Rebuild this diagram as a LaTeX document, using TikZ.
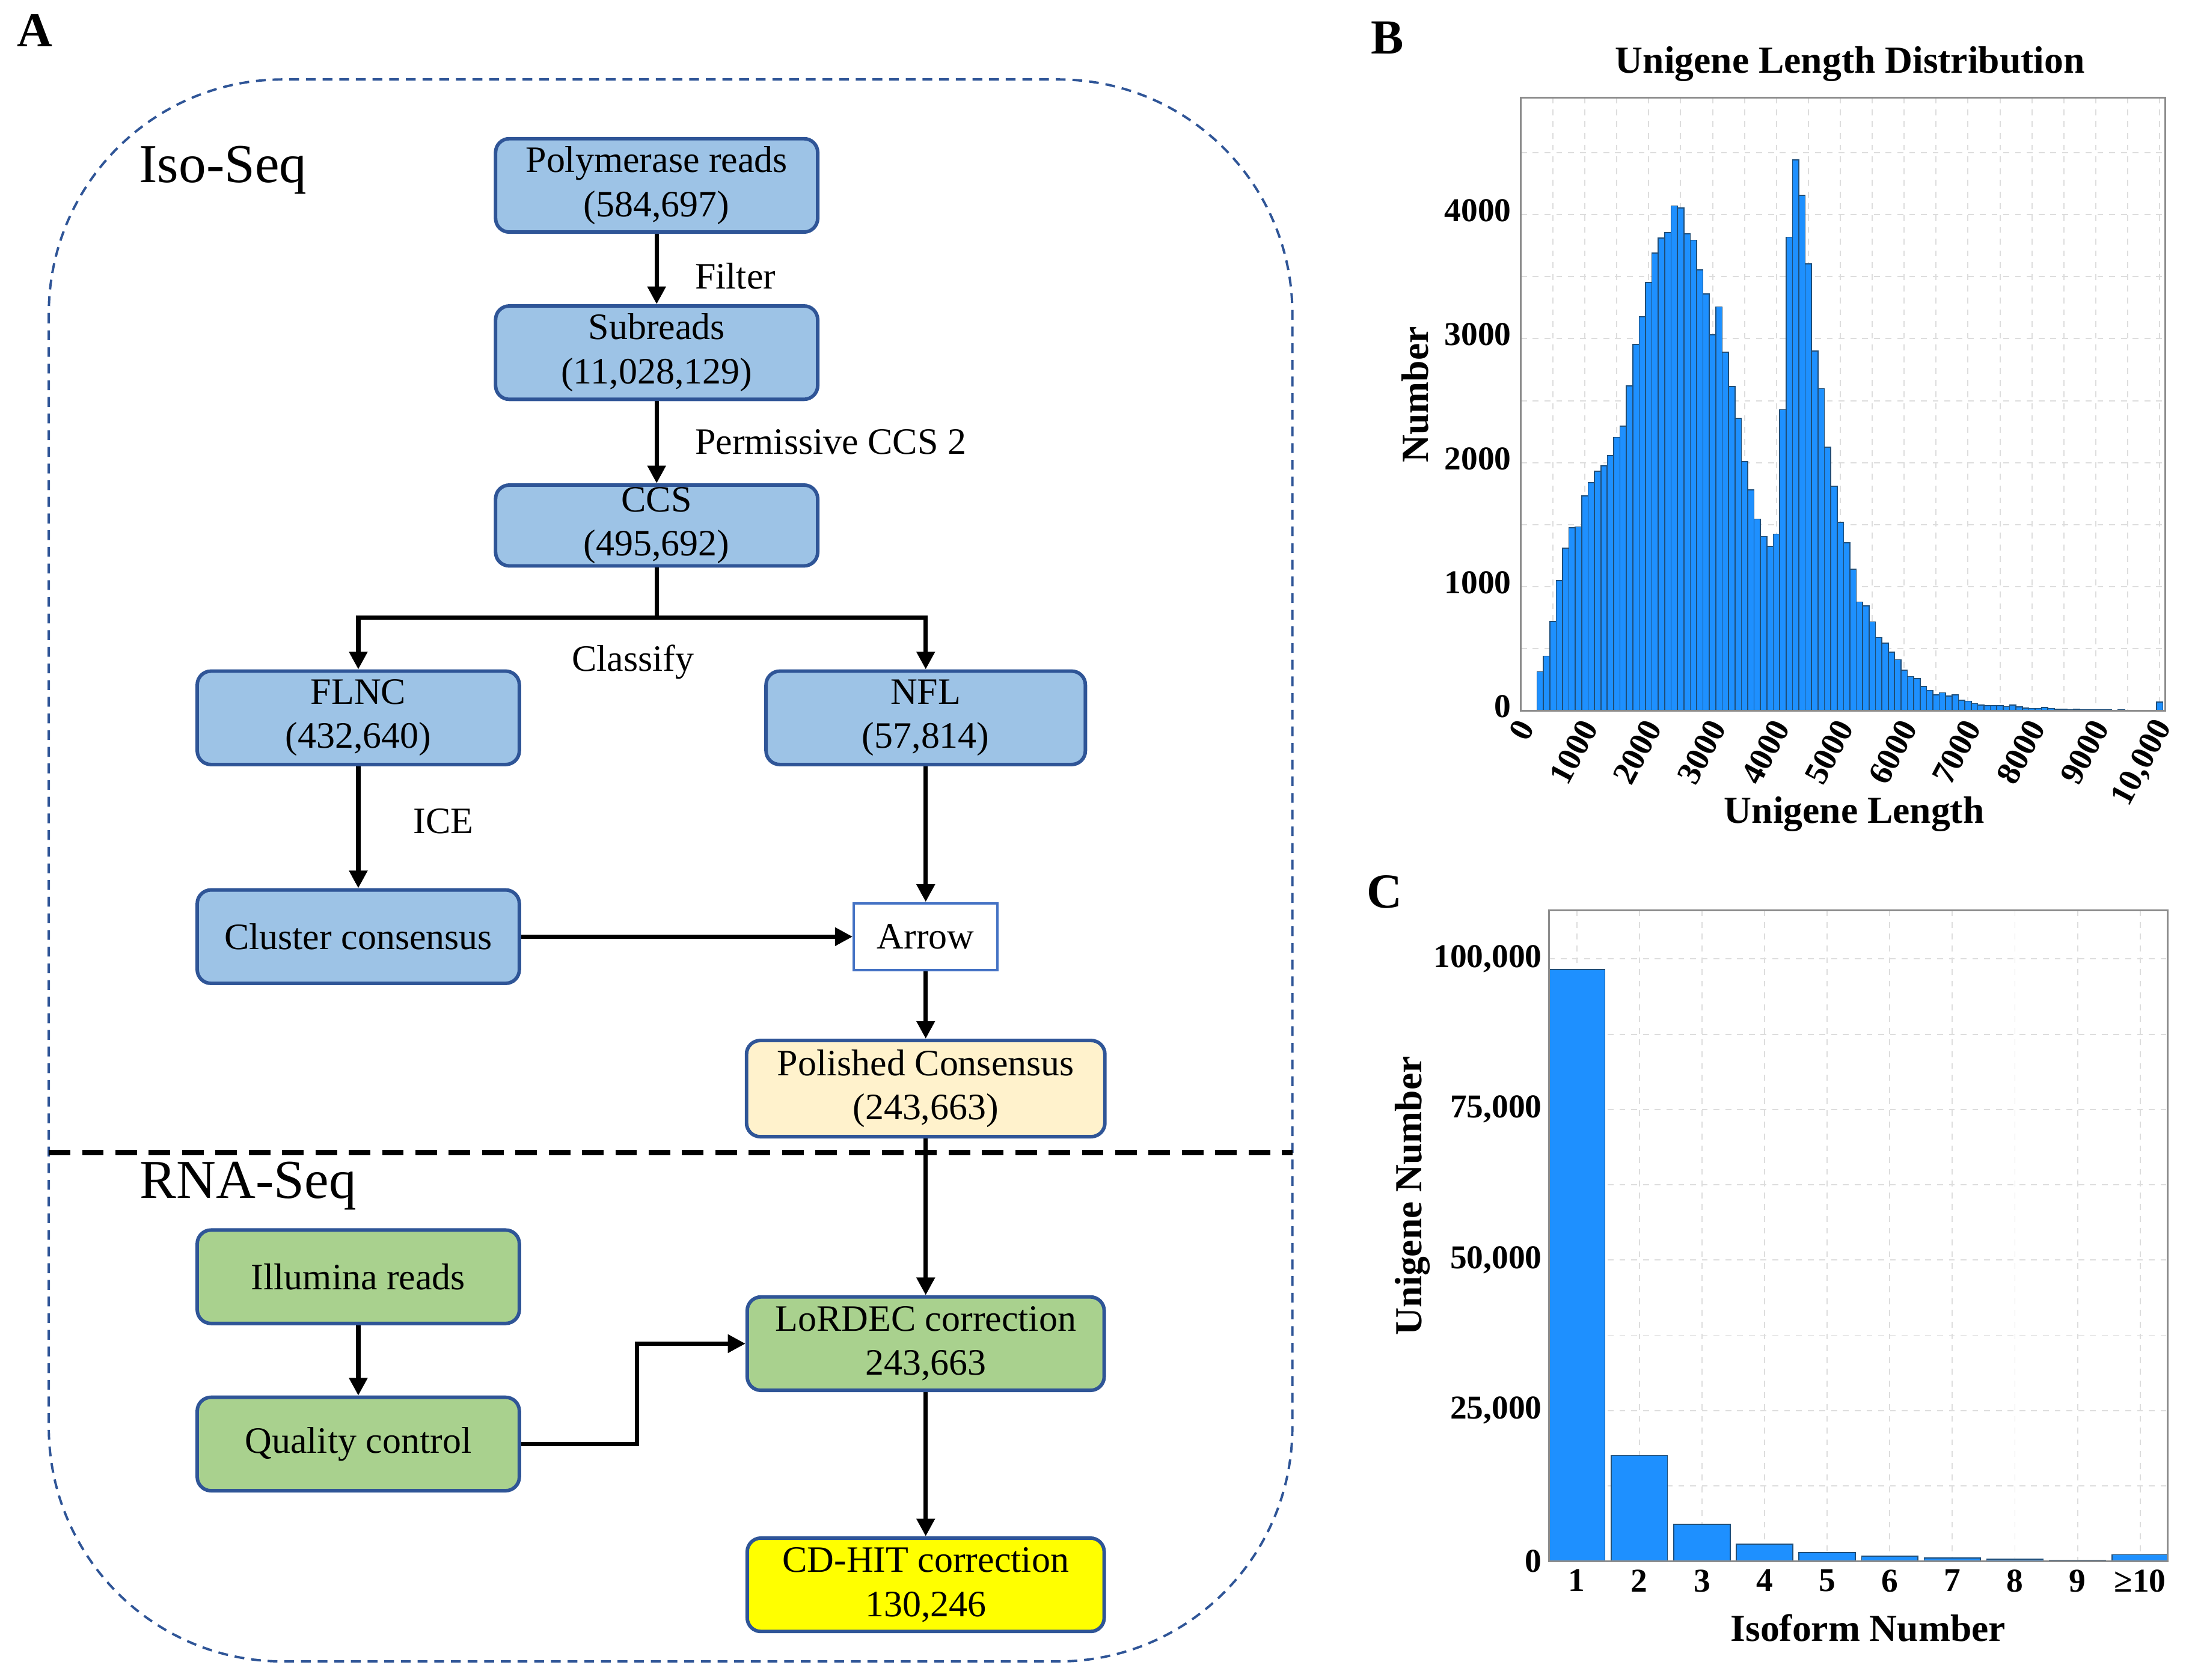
\documentclass[tikz,border=0pt]{standalone}
\usepackage{fontspec}
\setmainfont{Liberation Serif}
\usetikzlibrary{arrows.meta}

\definecolor{isoblue}{HTML}{9DC3E6}
\definecolor{boxline}{HTML}{2F5597}
\definecolor{rnagreen}{HTML}{A9D18E}
\definecolor{polcream}{HTML}{FFF2CC}
\definecolor{hityellow}{HTML}{FFFF00}
\definecolor{arrowline}{HTML}{4472C4}
\definecolor{barblue}{HTML}{1E90FF}
\definecolor{baredge}{HTML}{1F4E79}
\definecolor{gridgray}{HTML}{DDDDDD}

\begin{document}
\begin{tikzpicture}[x=0.025cm,y=-0.025cm,
  box/.style={draw=boxline,line width=1.8pt,rounded corners=7pt,align=center,inner sep=0pt,
    minimum width=5.775cm,minimum height=1.675cm,font=\fontsize{19}{22.5}\selectfont},
  isobox/.style={box,fill=isoblue},
  rnabox/.style={box,fill=rnagreen},
  flow/.style={line width=2.2pt,-{Triangle[length=9pt,width=9pt]}},
  lab/.style={font=\fontsize{19}{22.5}\selectfont,inner sep=0pt},
  part/.style={font=\fontsize{28}{32}\selectfont},
  panel/.style={font=\fontsize{25}{28}\bfseries},
  tick/.style={font=\fontsize{17}{20}\bfseries,inner sep=2pt},
  axtitle/.style={font=\fontsize{19.5}{22}\bfseries},
  frame/.style={draw=gray!90,line width=0.9pt},
  grid/.style={gridgray,dashed,line width=0.6pt},
  bar/.style={fill=barblue,draw=baredge,line width=0.5pt}]
\useasboundingbox (0,0) rectangle (1568,1205);

% panel A
\node[panel] (pa) at (25,22) {A};
\draw[boxline,line width=1.2pt,dash pattern=on 5pt off 3.5pt,rounded corners=4.2cm] (35,57) rectangle (927,1192);
\draw[line width=2.6pt,dash pattern=on 11pt off 6pt] (35,827) -- (927,827);
\node[part] (iso) at (160,122) {Iso-Seq};
\node[part] (rna) at (178,851) {RNA-Seq};

\node[isobox] (poly) at (471,133) {Polymerase reads\\(584,697)};
\node[isobox] (sub) at (471,253) {Subreads\\(11,028,129)};
\node[isobox,minimum height=1.45cm] (ccs) at (471,377) {CCS\\(495,692)};
\node[isobox] (flnc) at (257,515) {FLNC\\(432,640)};
\node[isobox,minimum width=5.725cm] (nfl) at (664,515) {NFL\\(57,814)};
\node[isobox] (cluster) at (257,672) {Cluster consensus};
\node[draw=arrowline,line width=1.3pt,fill=white,minimum width=2.575cm,minimum height=1.2cm,
  font=\fontsize{19}{22.5}\selectfont,inner sep=0pt] (arrowbox) at (664,672) {Arrow};
\node[box,fill=polcream,minimum width=6.425cm,minimum height=1.725cm] (polished) at (664,781) {Polished Consensus\\(243,663)};
\node[rnabox] (illumina) at (257,916) {Illumina reads};
\node[rnabox] (qc) at (257,1036) {Quality control};
\node[rnabox,minimum width=6.4cm] (lordec) at (664,964) {LoRDEC correction\\243,663};
\node[box,fill=hityellow,minimum width=6.4cm] (cdhit) at (664,1137) {CD-HIT correction\\130,246};

\coordinate (split) at (471,443);
\draw[flow] (poly) -- node[lab,anchor=west,xshift=0.65cm,pos=0.6] (filter) {Filter} (sub);
\draw[flow] (sub) -- node[lab,anchor=west,xshift=0.65cm,pos=0.5] (perm) {Permissive CCS 2} (ccs);
\draw[flow] (ccs.south) -- (split) -| (flnc.north);
\draw[flow] (split) -| (nfl.north);
\node[lab] (classify) at (454,475) {Classify};
\draw[flow] (flnc) -- node[lab,anchor=west,xshift=0.95cm,pos=0.45] (ice) {ICE} (cluster);
\draw[flow] (nfl) -- (arrowbox);
\draw[flow] (cluster) -- (arrowbox);
\draw[flow] (arrowbox) -- (polished);
\draw[flow] (polished) -- (lordec);
\draw[flow] (illumina) -- (qc);
\draw[flow] (qc.east) -- ++(83,0) |- (lordec.west);
\draw[flow] (lordec) -- (cdhit);

% panel B
\node[panel] (pb) at (995,27) {B};
\node[axtitle] (btitle) at (1327,46) {Unigene Length Distribution};
\foreach \v in {500,1000,...,10000}
  \draw[grid] ({1091+0.0458*\v},70) -- ({1091+0.0458*\v},510);
\foreach \v in {500,1000,...,4500}
  \draw[grid] (1091,{510-0.089*\v}) -- (1553,{510-0.089*\v});
\foreach \h [count=\i from 0] in {315,441,720,1051,1311,1476,1484,1732,1839,1933,
    1976,2059,2205,2295,2618,2953,3177,3453,3689,3811,
    3854,4071,4055,3846,3795,3555,3362,3031,3256,2890,
    2614,2358,2008,1780,1547,1406,1327,1425,2429,3819,
    4441,4154,3602,2902,2598,2126,1811,1520,1354,1142,
    878,846,717,591,547,472,413,327,276,260,
    197,165,130,146,118,130,87,79,59,47,
    43,43,43,35,47,31,24,20,20,28,20,12,
    12,10,14,10,8,10,8,8,6,8,5,5,6,5,5,71}
  \draw[bar] ({1091+0.0458*(250+100*\i)},510) rectangle ++(4.58,{-0.089*\h});
\draw[frame] (1091,70) rectangle (1553,510);
\foreach \v in {0,1000,...,4000}
  \node[tick,anchor=east] (by\v) at (1087,{507-0.089*\v}) {\v};
\foreach \v/\t in {0/0,1000/1000,2000/2000,3000/3000,4000/4000,5000/5000,6000/6000,7000/7000,8000/8000,9000/9000,10000/{10,000}}
  \node[tick,anchor=east,rotate=62,inner sep=1pt] (bx\v) at ({1095+0.0458*\v},517) {\t};
\node[axtitle,rotate=90] (bylab) at (1015,283) {Number};
\node[axtitle] (bxlab) at (1330,584) {Unigene Length};

% panel C (values in thousands)
\node[panel] (pc) at (993,640) {C};
\foreach \v in {12.5,25,...,100}
  \draw[grid] (1111,{1120-4.32*\v}) -- (1555,{1120-4.32*\v});
\foreach \i in {1,...,10}
  \draw[grid] ({1131+44.9*(\i-1)},653) -- ({1131+44.9*(\i-1)},1120);
\foreach \h [count=\i] in {98.26,17.55,6.125,2.815,1.407,0.828,0.497,0.331,0.166,1.076}
  \draw[bar] ({1131+44.9*(\i-1)-20.2},1120) rectangle ++(40.4,{-4.32*\h});
\draw[frame] (1111,653) rectangle (1555,1120);
\foreach \v/\t in {0/0,25/{25,000},50/{50,000},75/{75,000},100/{100,000}}
  \node[tick,anchor=east] (cy\v) at (1109,{1120-4.32*\v}) {\t};
\foreach \t [count=\i] in {1,2,3,4,5,6,7,8,9,≥10}
  \node[tick,anchor=north] (cx\i) at ({1131+44.9*(\i-1)},1123) {\t};
\node[axtitle,rotate=90] (cylab) at (1013,858) {Unigene Number};
\node[axtitle] (cxlab) at (1340,1168) {Isoform Number};
\end{tikzpicture}
\end{document}
